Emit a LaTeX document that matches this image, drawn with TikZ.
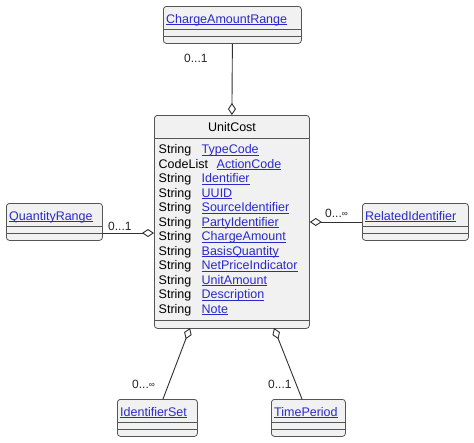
\documentclass[tikz,border=0pt]{standalone}
\usepackage{fontspec}
\setmainfont{Liberation Sans}
\usetikzlibrary{arrows.meta}
\definecolor{boxfill}{HTML}{F1F1F1}
\definecolor{boxborder}{HTML}{555555}
\definecolor{linecol}{HTML}{303030}
\definecolor{linkblue}{HTML}{2A2AC8}
\newsavebox{\lnkbox}
\newcommand{\lnk}[1]{\textcolor{linkblue}{\sbox{\lnkbox}{#1}\rlap{\rule[-2pt]{\wd\lnkbox}{0.7pt}}\usebox{\lnkbox}}}
\tikzset{
  cls/.style={draw=boxborder, fill=boxfill, rounded corners=3pt, line width=0.8pt,
    anchor=north west, inner sep=0pt},
  divider/.style={draw=boxborder, line width=0.8pt},
  txt/.style={inner sep=0pt, anchor=base west, font=\fontsize{12.5pt}{14.5pt}\selectfont},
  mult/.style={txt, font=\fontsize{12pt}{14pt}\selectfont, text=black!85},
  conn/.style={draw=linecol, line width=0.9pt},
  agg/.style={conn, {Diamond[length=12pt,width=8pt,fill=white]}-},
}
\begin{document}
\begin{tikzpicture}[x=1pt,y=-1pt]
\useasboundingbox[fill=white] (0,0) rectangle (474,442);

% ChargeAmountRange
\node[cls, minimum width=138pt, minimum height=37pt] (car) at (163,6) {};
\draw[divider] ([yshift=-23pt]car.north west) -- ([yshift=-23pt]car.north east);
\draw[divider] ([yshift=-30pt]car.north west) -- ([yshift=-30pt]car.north east);
\node[txt] (carN) at (166,23) {\lnk{ChargeAmountRange}};

% QuantityRange
\node[cls, minimum width=96pt, minimum height=37pt] (qr) at (6,203) {};
\draw[divider] ([yshift=-23pt]qr.north west) -- ([yshift=-23pt]qr.north east);
\draw[divider] ([yshift=-30pt]qr.north west) -- ([yshift=-30pt]qr.north east);
\node[txt] (qrN) at (9,220) {\lnk{QuantityRange}};

% RelatedIdentifier
\node[cls, minimum width=106pt, minimum height=37pt] (ri) at (362,203) {};
\draw[divider] ([yshift=-23pt]ri.north west) -- ([yshift=-23pt]ri.north east);
\draw[divider] ([yshift=-30pt]ri.north west) -- ([yshift=-30pt]ri.north east);
\node[txt] (riN) at (365,220) {\lnk{RelatedIdentifier}};

% IdentifierSet
\node[cls, minimum width=80pt, minimum height=37pt] (is) at (117,399) {};
\draw[divider] ([yshift=-23pt]is.north west) -- ([yshift=-23pt]is.north east);
\draw[divider] ([yshift=-30pt]is.north west) -- ([yshift=-30pt]is.north east);
\node[txt] (isN) at (120,416) {\lnk{IdentifierSet}};

% TimePeriod
\node[cls, minimum width=74pt, minimum height=37pt] (tp) at (271,399) {};
\draw[divider] ([yshift=-23pt]tp.north west) -- ([yshift=-23pt]tp.north east);
\draw[divider] ([yshift=-30pt]tp.north west) -- ([yshift=-30pt]tp.north east);
\node[txt] (tpN) at (274,416) {\lnk{TimePeriod}};

% UnitCost
\node[cls, minimum width=155pt, minimum height=213pt] (uc) at (154,115) {};
\draw[divider] ([yshift=-23pt]uc.north west) -- ([yshift=-23pt]uc.north east);
\draw[divider] ([yshift=-205pt]uc.north west) -- ([yshift=-205pt]uc.north east);
\node[txt, anchor=base] (ucN) at (232,131) {UnitCost};

\foreach \i/\t/\n/\lx in {0/String/TypeCode/201.5, 1/CodeList/ActionCode/216.5,
  2/String/Identifier/201.5, 3/String/UUID/201.5, 4/String/SourceIdentifier/201.5,
  5/String/PartyIdentifier/201.5, 6/String/ChargeAmount/201.5, 7/String/BasisQuantity/201.5,
  8/String/NetPriceIndicator/201.5, 9/String/UnitAmount/201.5, 10/String/Description/201.5,
  11/String/Note/201.5} {
  \node[txt] (ty\i) at (158.5,153.5+14.5*\i) {\t};
  \node[txt] (at\i) at (\lx,153.5+14.5*\i) {\lnk{\n}};
}

% connectors
\coordinate (qrE) at (102,233);
\coordinate (riW) at (362,222);
\coordinate (ucIS) at (190,328);
\coordinate (isT) at (163,399);
\coordinate (ucTP) at (274,328);
\coordinate (tpT) at (302,399);

\draw[agg] (uc.north) -- (car.south);
\draw[agg] (uc.west |- qrE) -- (qrE);
\draw[agg] (uc.east |- riW) -- (riW);
\draw[agg] (ucIS) -- (isT);
\draw[agg] (ucTP) -- (tpT);

% multiplicities
\node[mult] (m1) at (184,62) {0...1};
\node[mult] (m2) at (108,230) {0...1};
\node[mult] (m3) at (325,217) {0...\raisebox{0.5pt}{\scalebox{0.7}{∞}}};
\node[mult] (m4) at (132,388) {0...\raisebox{0.5pt}{\scalebox{0.7}{∞}}};
\node[mult] (m5) at (268,388) {0...1};
\end{tikzpicture}
\end{document}
